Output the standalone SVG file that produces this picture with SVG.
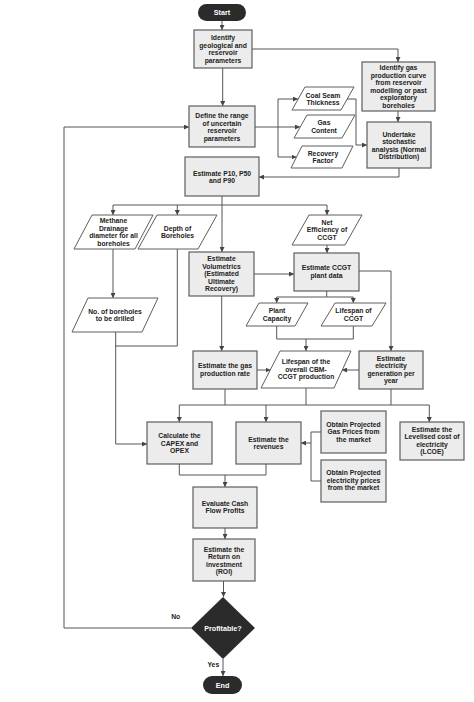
<svg xmlns="http://www.w3.org/2000/svg" width="474" height="702" viewBox="0 0 474 702">
<defs>
<marker id="a" markerUnits="userSpaceOnUse" markerWidth="5" markerHeight="5" viewBox="0 0 10 10" refX="10" refY="5" orient="auto">
<path d="M0 0 L10 5 L0 10 z" fill="#444"/>
</marker>
<style>
.box{fill:#ececec;stroke:#5e5e5e;stroke-width:1.2}
.para{fill:#fff;stroke:#5e5e5e;stroke-width:1}
.term{fill:#2b2b2b}
text{font-family:"Liberation Sans",Arial,sans-serif;font-weight:bold;font-size:6.8px;fill:#222;text-anchor:middle}
.w{fill:#fff;font-size:7.2px}
.c path{fill:none;stroke:#555;stroke-width:1}
.ar{marker-end:url(#a)}
</style>
</defs>
<rect width="474" height="702" fill="#fff"/>

<g class="c" id="connectors">
<path class="ar" d="M222 21 V30"/>
<path class="ar" d="M222.7 68 V106"/>
<path class="ar" d="M252 49 H398 V62"/>
<path class="ar" d="M398 111 V122"/>
<path d="M278 99 V157"/>
<path class="ar" d="M278 99 H298"/>
<path class="ar" d="M255 127 H300"/>
<path class="ar" d="M278 157 H296.5"/>
<path d="M347 99 H356 V145"/>
<path class="ar" d="M356 145 H367"/>
<path class="ar" d="M399 168 V177 H259"/>
<path class="ar" d="M222 196 V252"/>
<path class="ar" d="M222 205 H113 V215"/>
<path class="ar" d="M222 205 H327 V215"/>
<path class="ar" d="M177.3 205 V215"/>
<path class="ar" d="M327 245 V253"/>
<path class="ar" d="M113 249 V298"/>
<path class="ar" d="M115.7 332 V444 H147"/>
<path d="M177.3 249 V346 H115.7"/>
<path class="ar" d="M254 274 H294"/>
<path class="ar" d="M221.7 296 V351"/>
<path class="ar" d="M359 271 H391 V351"/>
<path class="ar" d="M326.7 291 V297 H276.7 V303"/>
<path class="ar" d="M326.7 297 H353.3 V303"/>
<path d="M276.7 326 V339 H353.3 V326"/>
<path class="ar" d="M306 339 V351"/>
<path class="ar" d="M257 370 H270.5"/>
<path class="ar" d="M359 370 H342"/>
<path d="M225 389 V405 M306 388 V405 M391 389 V405 M179.3 405 H429.3"/>
<path class="ar" d="M179.3 405 V422"/>
<path class="ar" d="M266 405 V422"/>
<path class="ar" d="M429.3 405 V422"/>
<path d="M321 432 H311 V481 H321"/>
<path class="ar" d="M311 443 H301"/>
<path d="M179.3 464 V475 H266 V464"/>
<path class="ar" d="M225 475 V487"/>
<path class="ar" d="M225 528 V539"/>
<path class="ar" d="M223.5 581 V597"/>
<path class="ar" d="M223 659 V676"/>
<path class="ar" d="M191 628 H64 V127 H189"/>
</g>

<g id="start"><rect class="term" x="198" y="4" width="48" height="17" rx="8.5"/><text class="w" x="222" y="15">Start</text></g>

<g id="identify-geo"><rect class="box" x="194" y="30" width="58" height="38"/>
<text x="223" y="40">Identify</text><text x="223" y="47.5">geological and</text><text x="223" y="55">reservoir</text><text x="223" y="62.5">parameters</text></g>

<g id="identify-gas"><rect class="box" x="362" y="62" width="73" height="49"/>
<text x="398.5" y="70">Identify gas</text><text x="398.5" y="77.5">production curve</text><text x="398.5" y="85">from reservoir</text><text x="398.5" y="92.5">modelling or past</text><text x="398.5" y="100">exploratory</text><text x="398.5" y="107.5">boreholes</text></g>

<g id="undertake"><rect class="box" x="367" y="122" width="64" height="46"/>
<text x="399" y="136.5">Undertake</text><text x="399" y="144">stochastic</text><text x="399" y="151.5">analysis (Normal</text><text x="399" y="159">Distribution)</text></g>

<g id="define"><rect class="box" x="189" y="106" width="66" height="41"/>
<text x="222" y="118">Define the range</text><text x="222" y="125.5">of uncertain</text><text x="222" y="133">reservoir</text><text x="222" y="140.5">parameters</text></g>

<g id="coal-seam"><polygon class="para" points="305,87 354,87 341,110 292,110"/>
<text x="323" y="97.5">Coal Seam</text><text x="323" y="105">Thickness</text></g>

<g id="gas-content"><polygon class="para" points="307,115 355,115 342,138 294,138"/>
<text x="324" y="125">Gas</text><text x="324" y="132.5">Content</text></g>

<g id="recovery-factor"><polygon class="para" points="302,146 353,146 342,168 291,168"/>
<text x="323" y="155.5">Recovery</text><text x="323" y="163">Factor</text></g>

<g id="estimate-p"><rect class="box" x="185" y="157" width="74" height="39"/>
<text x="222" y="175.5">Estimate P10, P50</text><text x="222" y="183">and P90</text></g>

<g id="methane"><polygon class="para" points="92,215 153,215 135,249 74,249"/>
<text x="113.5" y="223">Methane</text><text x="113.5" y="230.5">Drainage</text><text x="113.5" y="238">diameter for all</text><text x="113.5" y="245.5">boreholes</text></g>

<g id="depth"><polygon class="para" points="157,215 217,215 198,249 138,249"/>
<text x="177.5" y="230.5">Depth of</text><text x="177.5" y="238">Boreholes</text></g>

<g id="net-eff"><polygon class="para" points="309,215 362,215 345,245 292,245"/>
<text x="327" y="224.5">Net</text><text x="327" y="232">Efficiency of</text><text x="327" y="239.5">CCGT</text></g>

<g id="no-boreholes"><polygon class="para" points="88,298 158,298 142,332 72,332"/>
<text x="115" y="313.5">No. of boreholes</text><text x="115" y="321">to be drilled</text></g>

<g id="volumetrics"><rect class="box" x="189" y="252" width="65" height="44"/>
<text x="221.5" y="261">Estimate</text><text x="221.5" y="268.5">Volumetrics</text><text x="221.5" y="276">(Estimated</text><text x="221.5" y="283.5">Ultimate</text><text x="221.5" y="291">Recovery)</text></g>

<g id="ccgt"><rect class="box" x="294" y="253" width="65" height="38"/>
<text x="326.5" y="270">Estimate CCGT</text><text x="326.5" y="277.5">plant data</text></g>

<g id="plant-capacity"><polygon class="para" points="259,303 308,303 295,326 246,326"/>
<text x="277" y="313">Plant</text><text x="277" y="320.5">Capacity</text></g>

<g id="lifespan-ccgt"><polygon class="para" points="335,303 386,303 372,326 321,326"/>
<text x="353.5" y="313">Lifespan of</text><text x="353.5" y="320.5">CCGT</text></g>

<g id="gas-rate"><rect class="box" x="193" y="351" width="64" height="38"/>
<text x="225" y="368">Estimate the gas</text><text x="225" y="375.5">production rate</text></g>

<g id="lifespan-overall"><polygon class="para" points="280,351 351,351 334,388 261,388"/>
<text x="306" y="364">Lifespan of the</text><text x="306" y="371.5">overall CBM-</text><text x="306" y="379">CCGT production</text></g>

<g id="electricity"><rect class="box" x="359" y="351" width="64" height="38"/>
<text x="391" y="360.5">Estimate</text><text x="391" y="368">electricity</text><text x="391" y="375.5">generation per</text><text x="391" y="383">year</text></g>

<g id="capex"><rect class="box" x="147" y="422" width="65" height="42"/>
<text x="179.5" y="438">Calculate the</text><text x="179.5" y="445.5">CAPEX and</text><text x="179.5" y="453">OPEX</text></g>

<g id="revenues"><rect class="box" x="236" y="422" width="65" height="42"/>
<text x="268.5" y="441.5">Estimate the</text><text x="268.5" y="449">revenues</text></g>

<g id="gas-prices"><rect class="box" x="321" y="411" width="65" height="42"/>
<text x="353.5" y="426.5">Obtain Projected</text><text x="353.5" y="434">Gas Prices from</text><text x="353.5" y="441.5">the market</text></g>

<g id="elec-prices"><rect class="box" x="321" y="460" width="65" height="42"/>
<text x="353.5" y="475">Obtain Projected</text><text x="353.5" y="482.5">electricity prices</text><text x="353.5" y="490">from the market</text></g>

<g id="lcoe"><rect class="box" x="400" y="422" width="64" height="38"/>
<text x="432" y="431.5">Estimate the</text><text x="432" y="439">Levelised cost of</text><text x="432" y="446.5">electricity</text><text x="432" y="454">(LCOE)</text></g>

<g id="cash-flow"><rect class="box" x="193" y="487" width="64" height="41"/>
<text x="225" y="505.5">Evaluate Cash</text><text x="225" y="513">Flow Profits</text></g>

<g id="roi"><rect class="box" x="193" y="539" width="62" height="42"/>
<text x="224" y="551.5">Estimate the</text><text x="224" y="559">Return on</text><text x="224" y="566.5">investment</text><text x="224" y="574">(ROI)</text></g>

<g id="profitable"><polygon class="term" points="223,597 255,628 223,659 191,628"/>
<text class="w" x="223" y="630.5">Profitable?</text></g>

<g id="end"><rect class="term" x="203" y="676" width="39" height="18" rx="9"/><text class="w" x="222.5" y="687.5">End</text></g>

<g id="labels"><text x="175.7" y="619">No</text><text x="213.3" y="666.5">Yes</text></g>
</svg>
